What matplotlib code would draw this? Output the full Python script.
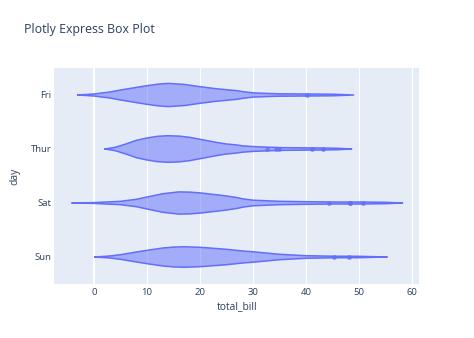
import numpy as np
import matplotlib
matplotlib.use("Agg")
import matplotlib.pyplot as plt

plt.rcParams['font.family'] = ['Open Sans', 'DejaVu Sans']

# Categories, bottom to top
days = ["Sun", "Sat", "Thur", "Fri"]

# Violin outlines: total_bill sample positions and half-widths (pixels of a 54 px row)
fri_x = [-3.05, 0, 3, 5, 8, 10, 12, 14, 17, 20, 23, 25, 27, 28, 30, 33, 35, 40, 45, 48.97]
fri_w = [0.0, 1.0, 3.0, 5.0, 7.6, 9.3, 10.8, 11.6, 10.6, 8.3, 6.3, 5.3, 4.3, 3.4, 2.1, 1.5, 1.2, 1.0, 0.8, 0.0]

thur_x = [2.1, 4, 6, 8, 10, 12, 14, 16, 18, 20, 23, 25, 27, 28, 30, 33, 35, 40, 43, 46, 48.6]
thur_w = [0.0, 1.7, 5.0, 8.7, 11.0, 12.7, 13.3, 12.9, 11.7, 9.7, 6.7, 5.0, 4.0, 3.2, 2.4, 1.8, 1.4, 1.1, 1.0, 0.7, 0.0]

sat_x = [-4.1, 0, 5, 8, 10, 13, 16, 18, 20, 23, 25, 27, 28, 30, 35, 40, 45, 50, 55, 58.2]
sat_w = [0.0, 0.4, 1.7, 3.7, 6.0, 9.3, 11.1, 10.9, 10.1, 8.3, 7.0, 5.4, 4.2, 2.8, 1.7, 1.3, 1.0, 1.0, 0.7, 0.0]

sun_x = [0.15, 3, 5, 8, 10, 13, 15, 17, 20, 25, 28, 30, 35, 40, 45, 50, 55.3]
sun_w = [0.0, 1.0, 2.3, 5.0, 6.7, 9.0, 9.9, 10.3, 9.7, 7.7, 6.0, 5.2, 2.7, 1.3, 0.8, 0.7, 0.0]

# Outlier points per day
fri_out = [40.17]
thur_out = [32.68, 34.30, 34.83, 41.19, 43.11]
sat_out = [44.30, 48.27, 48.33, 50.81]
sun_out = [45.35, 48.17]

x_ticks = [0, 10, 20, 30, 40, 50, 60]

profiles = {
    "Sun": (sun_x, sun_w, sun_out),
    "Sat": (sat_x, sat_w, sat_out),
    "Thur": (thur_x, thur_w, thur_out),
    "Fri": (fri_x, fri_w, fri_out),
}

color = "#636efa"
text_color = "#2a3f5f"
row_px = 54.0

fig = plt.figure(figsize=(4.74, 3.38), dpi=100)
ax_w, ax_h = 365, 216
ax = fig.add_axes([54 / 474, 54 / 338, ax_w / 474, ax_h / 338])
ax.set_facecolor("#E5ECF6")

for i, day in enumerate(days):
    xs, ws, outs = profiles[day]
    xs = np.asarray(xs, dtype=float)
    hw = np.asarray(ws, dtype=float) / row_px
    ax.fill_between(xs, i - hw, i + hw, facecolor=color, alpha=0.5,
                    edgecolor="none", zorder=2)
    outline_x = np.concatenate([xs, xs[::-1], xs[:1]])
    outline_y = np.concatenate([i + hw, (i - hw)[::-1], [i]])
    ax.plot(outline_x, outline_y, color=color, lw=1.1, zorder=3,
            solid_joinstyle="round")
    ax.plot(outs, [i] * len(outs), "o", color=color, ms=3.4, alpha=0.8,
            mec="none", zorder=4)

ax.set_xlim(-7.55, 61.3)
ax.set_ylim(-0.5, 3.5)
ax.set_xticks(x_ticks)
ax.set_yticks(range(len(days)))
ax.set_yticklabels(days)
for t in x_ticks:
    ax.axvline(t, color="white", lw=1.5 if t == 0 else 0.8, zorder=1)
for s in ax.spines.values():
    s.set_visible(False)
ax.tick_params(length=0, colors=text_color, labelsize=6.8)
ax.tick_params(axis="x", pad=3)
ax.tick_params(axis="y", pad=2)
ax.set_xlabel("total_bill", color=text_color, fontsize=7.4, va="center")
ax.set_ylabel("day", color=text_color, fontsize=7.4, va="center")
ax.xaxis.set_label_coords((237 - 54) / ax_w, (284 - 307) / ax_h)
ax.yaxis.set_label_coords((15 - 54) / ax_w, (284 - 176) / ax_h)

fig.text(24 / 474, 1 - 30 / 338, "Plotly Express Box Plot", color=text_color,
         fontsize=8.9, ha="left", va="center")

fig.savefig("out.png", dpi=100, facecolor="white")
